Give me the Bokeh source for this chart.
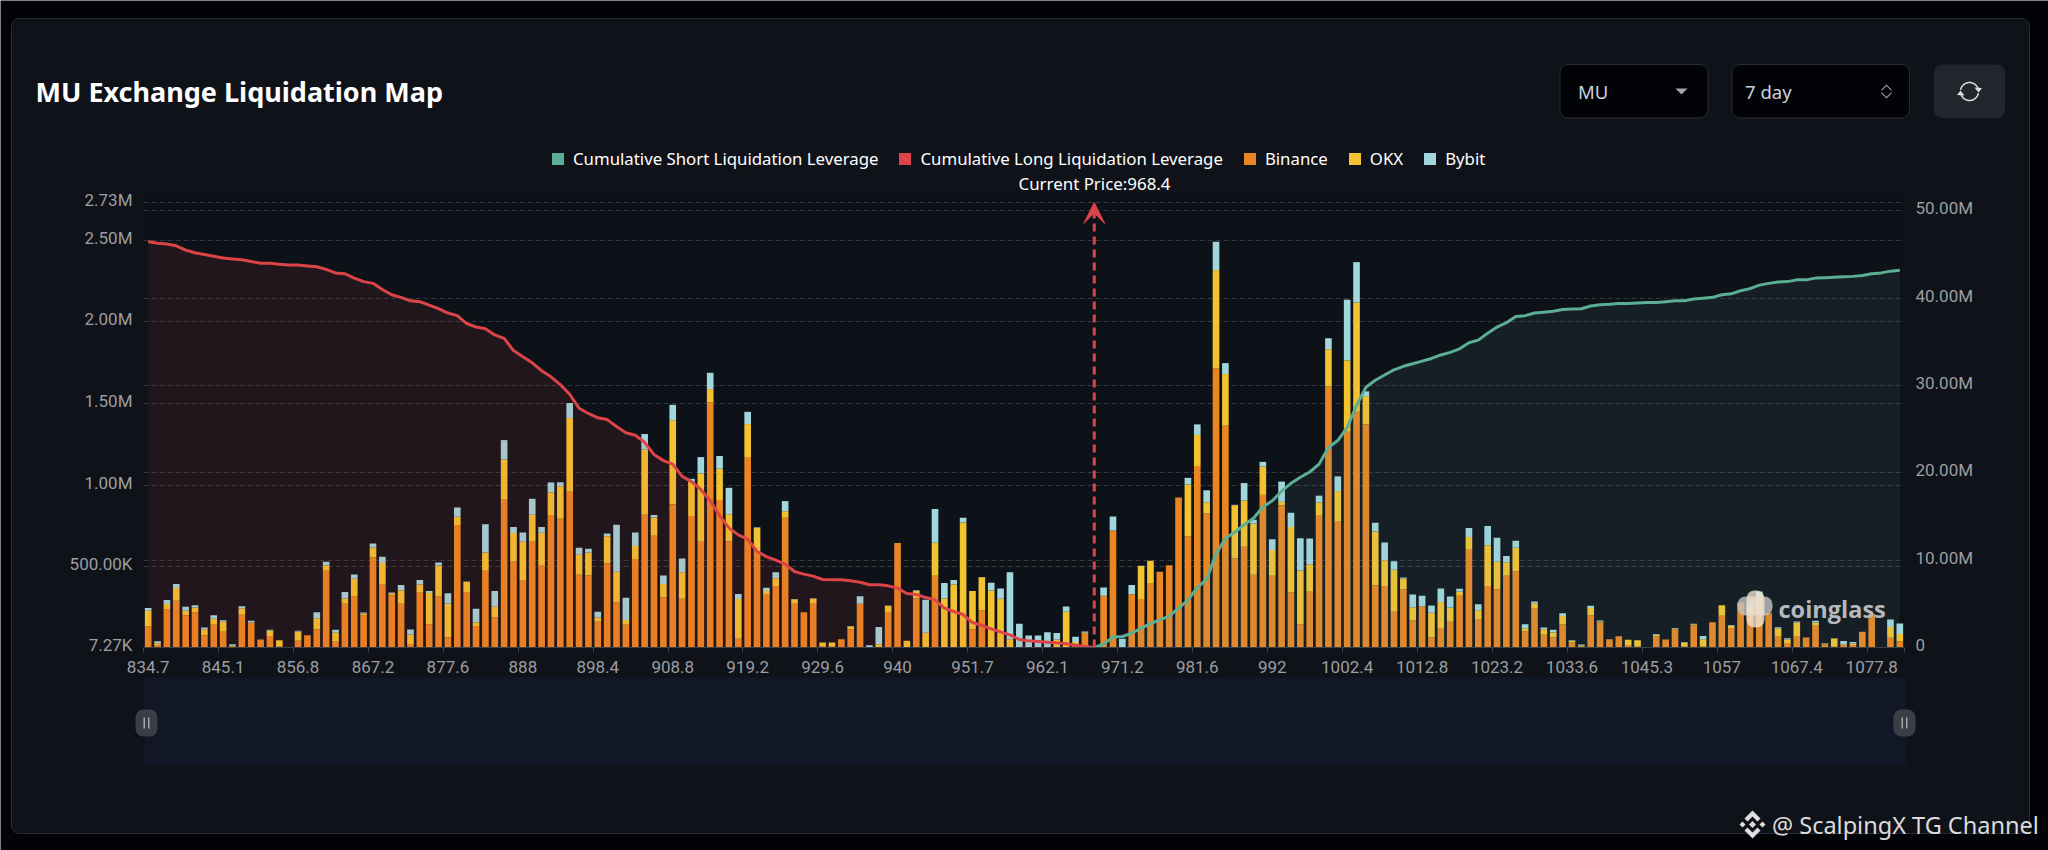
import numpy as np
from bokeh.core.properties import value
from bokeh.embed import file_html
from bokeh.layouts import column
from bokeh.resources import INLINE
from bokeh.plotting import figure
from bokeh.models import (Range1d, LinearAxis, FixedTicker, Grid, BoxAnnotation, Label, Legend, LegendItem,
                          Arrow, VeeHead)

# ---- data ----
TICK_LABELS = ["834.7","845.1","856.8","867.2","877.6","888","898.4","908.8","919.2","929.6","940","951.7",
               "962.1","971.2","981.6","992","1002.4","1012.8","1023.2","1033.6","1045.3","1057","1067.4","1077.8"]
LEFT_TICKS = {7270:"7.27K",500000:"500.00K",1000000:"1.00M",1500000:"1.50M",2000000:"2.00M",2500000:"2.50M",2730000:"2.73M"}
RIGHT_TICKS = {0:"0",10000000:"10.00M",20000000:"20.00M",30000000:"30.00M",40000000:"40.00M",50000000:"50.00M"}
CURRENT_BAR = 101

binance_k = [129,16,235,286,198,214,75,139,96,4,200,153,49,71,4,0,41,75,110,469,35,267,314,198,551,384,320,267,22,335,143,314,61,749,339,131,469,184,908,524,408,647,500,810,787,953,445,441,157,516,277,
139,541,812,683,306,877,298,804,647,1499,902,649,53,1165,588,322,377,794,273,216,267,4,4,51,112,267,0,0,212,639,0,302,0,439,0,0,0,110,228,0,0,0,0,0,0,0,0,0,4,88,
0,316,716,0,326,296,394,463,504,918,679,1110,820,1707,1357,545,616,445,934,439,871,337,143,341,806,1597,769,1320,1442,1365,381,377,218,357,165,253,61,114,157,316,598,175,377,357,439,465,100,241,78,61,141,
31,4,198,153,51,69,16,4,0,67,49,110,4,135,4,155,194,120,275,224,245,204,71,27,71,61,133,20,4,16,16,96,194,0,59,37]
okx_k = [96,10,31,78,27,31,37,37,61,6,39,0,0,31,41,0,57,0,69,35,55,33,106,10,61,133,12,84,57,51,190,188,208,51,63,24,112,65,243,177,239,165,202,139,200,451,122,141,27,165,186,
29,80,400,112,82,514,163,212,418,82,192,167,243,202,145,24,47,39,22,0,33,27,27,0,16,0,0,20,43,0,41,45,90,202,302,386,765,235,202,349,298,51,0,0,0,0,49,218,29,2,
0,0,0,0,0,202,137,0,0,0,318,190,69,602,316,326,284,314,173,157,20,400,328,169,82,228,188,437,669,173,328,157,257,65,82,0,151,165,88,27,78,53,249,167,82,145,18,29,33,31,51,
10,8,43,6,0,0,31,41,0,10,0,4,27,8,47,0,65,12,0,20,61,6,47,22,82,0,20,4,51,4,8,0,10,0,67,45]
bybit_k = [16,12,24,24,24,14,10,22,10,10,14,10,0,6,0,2,4,0,37,20,18,39,27,6,24,39,4,31,31,27,12,18,63,57,2,82,173,96,118,37,57,98,35,61,24,92,43,22,35,16,288,
137,82,94,16,53,94,84,16,100,100,78,161,31,75,2,20,37,63,2,0,2,0,0,0,4,47,14,106,2,0,0,4,202,206,92,27,29,0,2,47,63,410,145,73,73,94,39,33,33,8,
0,51,86,53,57,2,0,0,0,0,41,65,73,173,67,2,106,22,29,67,124,88,198,157,41,67,90,371,247,29,55,108,53,6,78,63,45,82,67,16,55,37,118,147,39,43,24,12,12,16,18,
4,6,14,6,0,0,0,0,2,4,0,6,2,2,20,0,0,4,0,20,37,0,6,8,6,0,10,2,2,20,10,0,0,2,45,65]
long_cum_m = [46.5,46.3,46.2,46.0,45.5,45.2,45.0,44.8,44.6,44.5,44.4,44.2,44.0,44.0,43.9,43.8,43.8,43.7,43.6,43.3,42.9,42.8,42.3,41.9,41.7,41.0,40.4,40.1,39.7,39.6,39.2,38.8,38.3,38.0,37.1,36.7,36.5,35.8,35.4,34.0,33.3,32.6,31.7,31.0,30.1,29.0,27.4,26.8,26.3,26.1,25.3,
24.6,24.3,23.5,22.1,21.4,21.0,19.6,19.0,18.1,16.8,15.1,13.7,12.9,12.4,11.0,10.4,10.0,9.55,8.7,8.4,8.17,7.79,7.75,7.75,7.64,7.48,7.18,7.18,7.06,6.8,6.19,6.07,5.73,5.46,4.5,4.12,3.78,2.86,2.52,2.14,1.79,1.45,0.92,0.76,0.69,0.61,0.53,0.42,0.27,0.11,0.0]
short_cum_m = [0.0,0.38,1.22,1.26,1.64,2.21,2.75,3.17,3.59,4.5,5.42,6.87,7.83,10.7,12.5,13.2,14.05,14.8,16.1,16.8,17.9,18.8,19.5,20.1,21.0,22.9,23.7,25.2,27.7,29.8,30.6,31.2,31.8,32.2,32.5,32.8,33.1,33.5,33.8,34.2,34.9,35.2,36.0,36.7,37.2,37.9,38.0,38.3,38.4,38.5,
38.7,38.75,38.8,39.1,39.25,39.3,39.4,39.4,39.45,39.5,39.5,39.6,39.7,39.7,39.9,40.0,40.1,40.4,40.5,40.85,41.1,41.5,41.7,41.85,41.9,42.1,42.1,42.3,42.35,42.4,42.45,42.5,42.6,42.8,42.9,43.1,43.2]

assert len(binance_k) == len(okx_k) == len(bybit_k) == 188, (len(binance_k), len(okx_k), len(bybit_k))

# ---- style ----
PAGE_BG, CARD, FRAME = "#020306", "#0f1219", "#0d1118"
GRID = "#34373c"
ORANGE, YELLOW, BLUE = "#ea8622", "#f3c22f", "#a0d6dc"
RED, GREEN = "#dc4448", "#5cae94"
TICK_TXT = "#9c9ea1"
W, H = 2048, 850
FL, FT, FW, FH = 143, 197, 1761, 450
AXIS_MIN, LEFT_MAX, RIGHT_MAX = 7270, 2760594, 51532600
ARROW_TIP = 50960000
LABEL_LIFT_PX = 2.5

# ---- page chrome: a full-canvas figure in pixel coordinates, under the chart ----
bg = figure(width=W, height=H, output_backend="svg", toolbar_location=None,
            x_range=Range1d(0, W), y_range=Range1d(H, 0), x_axis_location=None, y_axis_location=None,
            min_border=0, outline_line_color=None, frame_align=False)
bg.grid.visible = False
bg.border_fill_color = PAGE_BG
bg.background_fill_color = PAGE_BG


def box(x0, y0, x1, y1, fill, border=None, radius=0):
    return bg.quad(left=[x0], right=[x1], top=[y0], bottom=[y1], fill_color=fill, line_color=border,
                   line_width=1, border_radius=radius)


def poly(xs, ys, color):
    bg.patch(list(xs), list(ys), fill_color=color, line_color=None)


def text(x, y, s, color, size, font="Noto Sans", weight="normal", align="left"):
    bg.text(x=[x], y=[y], text=[s], text_color=color, text_font=value(font), text_font_size=value(f"{size}px"),
            text_font_style=weight, text_align=align, text_baseline="middle")


box(11, 18, 2029, 833, CARD, "#2a2d33", 8)
box(144, 677, 1906, 765, "#111726")

text(35, 91, "MU Exchange Liquidation Map", "#ffffff", 27, weight="bold")
box(1559.5, 64, 1707.5, 117.5, "#020307", "#2a2c33", 8)
box(1731.5, 64, 1909, 117.5, "#020307", "#2a2c33", 8)
box(1933.5, 64, 2004.5, 117.5, "#22252c", None, 8)
text(1577.5, 91, "MU", "#c9d3dc", 18.5)
text(1744.5, 91, "7 day", "#c9d3dc", 18.5)
poly([1675, 1687, 1681], [88, 88, 94], "#a5a7aa")


def chevron(x, y, sign):
    poly([x-5, x, x+5, x+5, x, x-5], [y+sign*4, y-sign*1, y+sign*4, y+sign*5.6, y+sign*0.6, y+sign*5.6], "#a5a7aa")


chevron(1886, 85, 1)
chevron(1886, 97, -1)


def arc(cxx, cyy, r, w, a0, a1):
    t = np.radians(np.linspace(a0, a1, 24))
    xs = list(cxx + (r+w/2)*np.cos(t)) + list(cxx + (r-w/2)*np.cos(t[::-1]))
    ys = list(cyy + (r+w/2)*np.sin(t)) + list(cyy + (r-w/2)*np.sin(t[::-1]))
    poly(xs, ys, "#dcdde0")


arc(1969, 91, 9, 1.5, 190, 345)
arc(1969, 91, 9, 1.5, 10, 165)
poly([1974, 1981.5, 1978], [87, 87.5, 92], "#dcdde0")
poly([1956.5, 1964, 1960], [94.5, 95, 90], "#dcdde0")

for hx in (146, 1904):
    box(hx-11, 709, hx+11, 736, "#3a3e46", None, 8)
    box(hx-3, 717, hx-1.5, 728, "#a4a8ac")
    box(hx+1.5, 717, hx+3, 728, "#a4a8ac")

text(1094, 183, "Current Price:968.4", "#ffffff", 16.9, align="center")


def diamond(xc, yc, r):
    poly([xc, xc+r, xc, xc-r], [yc-r, yc, yc+r, yc], "#dedede")


diamond(1752, 824, 3.5)
diamond(1742, 824, 3)
diamond(1762, 824, 3)
poly([1752, 1760, 1757, 1752, 1747, 1744], [810, 818, 821, 816, 821, 818], "#dedede")
poly([1752, 1760, 1757, 1752, 1747, 1744], [838, 830, 827, 832, 827, 830], "#dedede")
text(1771.5, 824, "@ ScalpingX TG Channel", "#dcdcdc", 23.5)

# ---- legend ----
LEG = [("Cumulative Short Liquidation Leverage", GREEN), ("Cumulative Long Liquidation Leverage", RED),
       ("Binance", ORANGE), ("OKX", YELLOW), ("Bybit", BLUE)]
items = []
for lab, col in LEG:
    r = bg.quad(left=[-50], right=[-40], top=[-50], bottom=[-40], fill_color=col, line_color=None)
    items.append(LegendItem(label=lab, renderers=[r]))
bg.add_layout(Legend(items=items, orientation="horizontal", location=(550, H-169.5), background_fill_alpha=0,
                     border_line_color=None, glyph_width=15, glyph_height=15, label_standoff=8, spacing=19,
                     padding=0, margin=0, label_text_color="#ffffff", label_text_font="Noto Sans",
                     label_text_font_size="16.8px", label_height=15))

# ---- chart, transparent, on top of the chrome ----
p = figure(width=W, height=H, output_backend="svg", toolbar_location=None,
           x_range=Range1d(-0.5, 187.5), y_range=Range1d(AXIS_MIN, LEFT_MAX),
           x_axis_location=None, y_axis_location=None,
           frame_width=FW, frame_height=FH, frame_align=False,
           min_border_left=FL, min_border_top=FT, min_border_right=W-FL-FW, min_border_bottom=H-FT-FH,
           margin=(-H, 0, 0, 0))
p.extra_y_ranges["cum"] = Range1d(0, RIGHT_MAX)
# label-only ranges: tick labels sit a little above their grid lines in the reference
ls = (LEFT_MAX - AXIS_MIN) / FH * LABEL_LIFT_PX
rs = RIGHT_MAX / FH * LABEL_LIFT_PX
p.extra_y_ranges["left_labels"] = Range1d(AXIS_MIN - ls, LEFT_MAX - ls)
p.extra_y_ranges["right_labels"] = Range1d(-rs, RIGHT_MAX - rs)
p.border_fill_color = None
p.background_fill_color = FRAME
p.outline_line_color = None
p.xgrid.visible = False
p.ygrid.visible = False

for tks, rng in ((LEFT_TICKS, "default"), (RIGHT_TICKS, "cum")):
    p.add_layout(Grid(dimension=1, ticker=FixedTicker(ticks=list(tks)), y_range_name=rng, grid_line_color=GRID,
                      grid_line_dash="5 3", grid_line_width=1))

x = np.arange(len(binance_k))
b0 = AXIS_MIN + np.array(binance_k) * 1000.0
b1 = b0 + np.array(okx_k) * 1000.0
b2 = b1 + np.array(bybit_k) * 1000.0
BW = 0.71
p.vbar(x=x, bottom=AXIS_MIN, top=b0, width=BW, fill_color=ORANGE, line_color=None)
p.vbar(x=x, bottom=b0, top=b1, width=BW, fill_color=YELLOW, line_color=None)
p.vbar(x=x, bottom=b1, top=b2, width=BW, fill_color=BLUE, line_color=None)

xl = x[:len(long_cum_m)]
xs = x[CURRENT_BAR:CURRENT_BAR+len(short_cum_m)]
yl = np.array(long_cum_m) * 1e6
ys_ = np.array(short_cum_m) * 1e6
p.varea(x=xl, y1=0, y2=yl, y_range_name="cum", fill_color=RED, fill_alpha=0.1)
p.varea(x=xs, y1=0, y2=ys_, y_range_name="cum", fill_color="#7fb0ac", fill_alpha=0.09)
p.line(xl, yl, y_range_name="cum", line_color=RED, line_width=3)
p.line(xs, ys_, y_range_name="cum", line_color=GREEN, line_width=3)

p.add_layout(Arrow(end=VeeHead(size=21, fill_color=RED, line_color=RED), x_start=CURRENT_BAR, y_start=0,
                   x_end=CURRENT_BAR, y_end=ARROW_TIP, y_range_name="cum",
                   line_color=RED, line_width=3, line_dash="8 5"))

bottom_axis = LinearAxis(ticker=FixedTicker(ticks=[8*k for k in range(len(TICK_LABELS))],
                                            minor_ticks=[-0.5 + 8*k for k in range(len(TICK_LABELS))] + [187.5]),
                         major_label_overrides={8*k: s for k, s in enumerate(TICK_LABELS)},
                         axis_line_color="#3c3f44", major_tick_line_color=None, major_tick_out=0, major_tick_in=0,
                         minor_tick_line_color="#3c3f44", minor_tick_in=0, minor_tick_out=5,
                         major_label_text_color=TICK_TXT, major_label_text_font="Roboto",
                         major_label_text_font_size="17px", major_label_standoff=8)
p.add_layout(bottom_axis, "below")
for ticks, rng, side in ((LEFT_TICKS, "left_labels", "left"), (RIGHT_TICKS, "right_labels", "right")):
    p.add_layout(LinearAxis(y_range_name=rng, ticker=FixedTicker(ticks=list(ticks)),
                            major_label_overrides=dict(ticks), axis_line_color=None,
                            major_tick_line_color=None, major_tick_out=0, major_tick_in=0,
                            minor_tick_line_color=None, minor_tick_out=0, minor_tick_in=0,
                            major_label_text_color=TICK_TXT, major_label_text_font="Roboto",
                            major_label_text_font_size="17px", major_label_standoff=11), side)

# coinglass watermark, over the bars
def mark(x0, y0, x1, y1, fill, alpha):
    p.add_layout(BoxAnnotation(left=x0, right=x1, top=y0, bottom=y1, left_units="canvas", right_units="canvas",
                               top_units="canvas", bottom_units="canvas", fill_color=fill, fill_alpha=alpha,
                               line_color=None, border_radius=8, editable=False))


mark(1737, 596, 1772, 615, "#c4c4c4", 0.8)
mark(1746, 590, 1764, 627, "#f2e6d2", 0.78)
p.add_layout(Label(x=1778, y=608, x_units="canvas", y_units="canvas", text="coinglass", text_color="#b6b9bc",
                   text_font="Open Sans", text_font_size="23.5px", text_font_style="bold", text_baseline="middle"))

layout = column(bg, p, margin=0, spacing=0)
html = file_html(layout, INLINE)
html = html.replace("<body>", f'<body style="margin:0;background:{PAGE_BG}">', 1)
open("out.html", "w").write(html)
